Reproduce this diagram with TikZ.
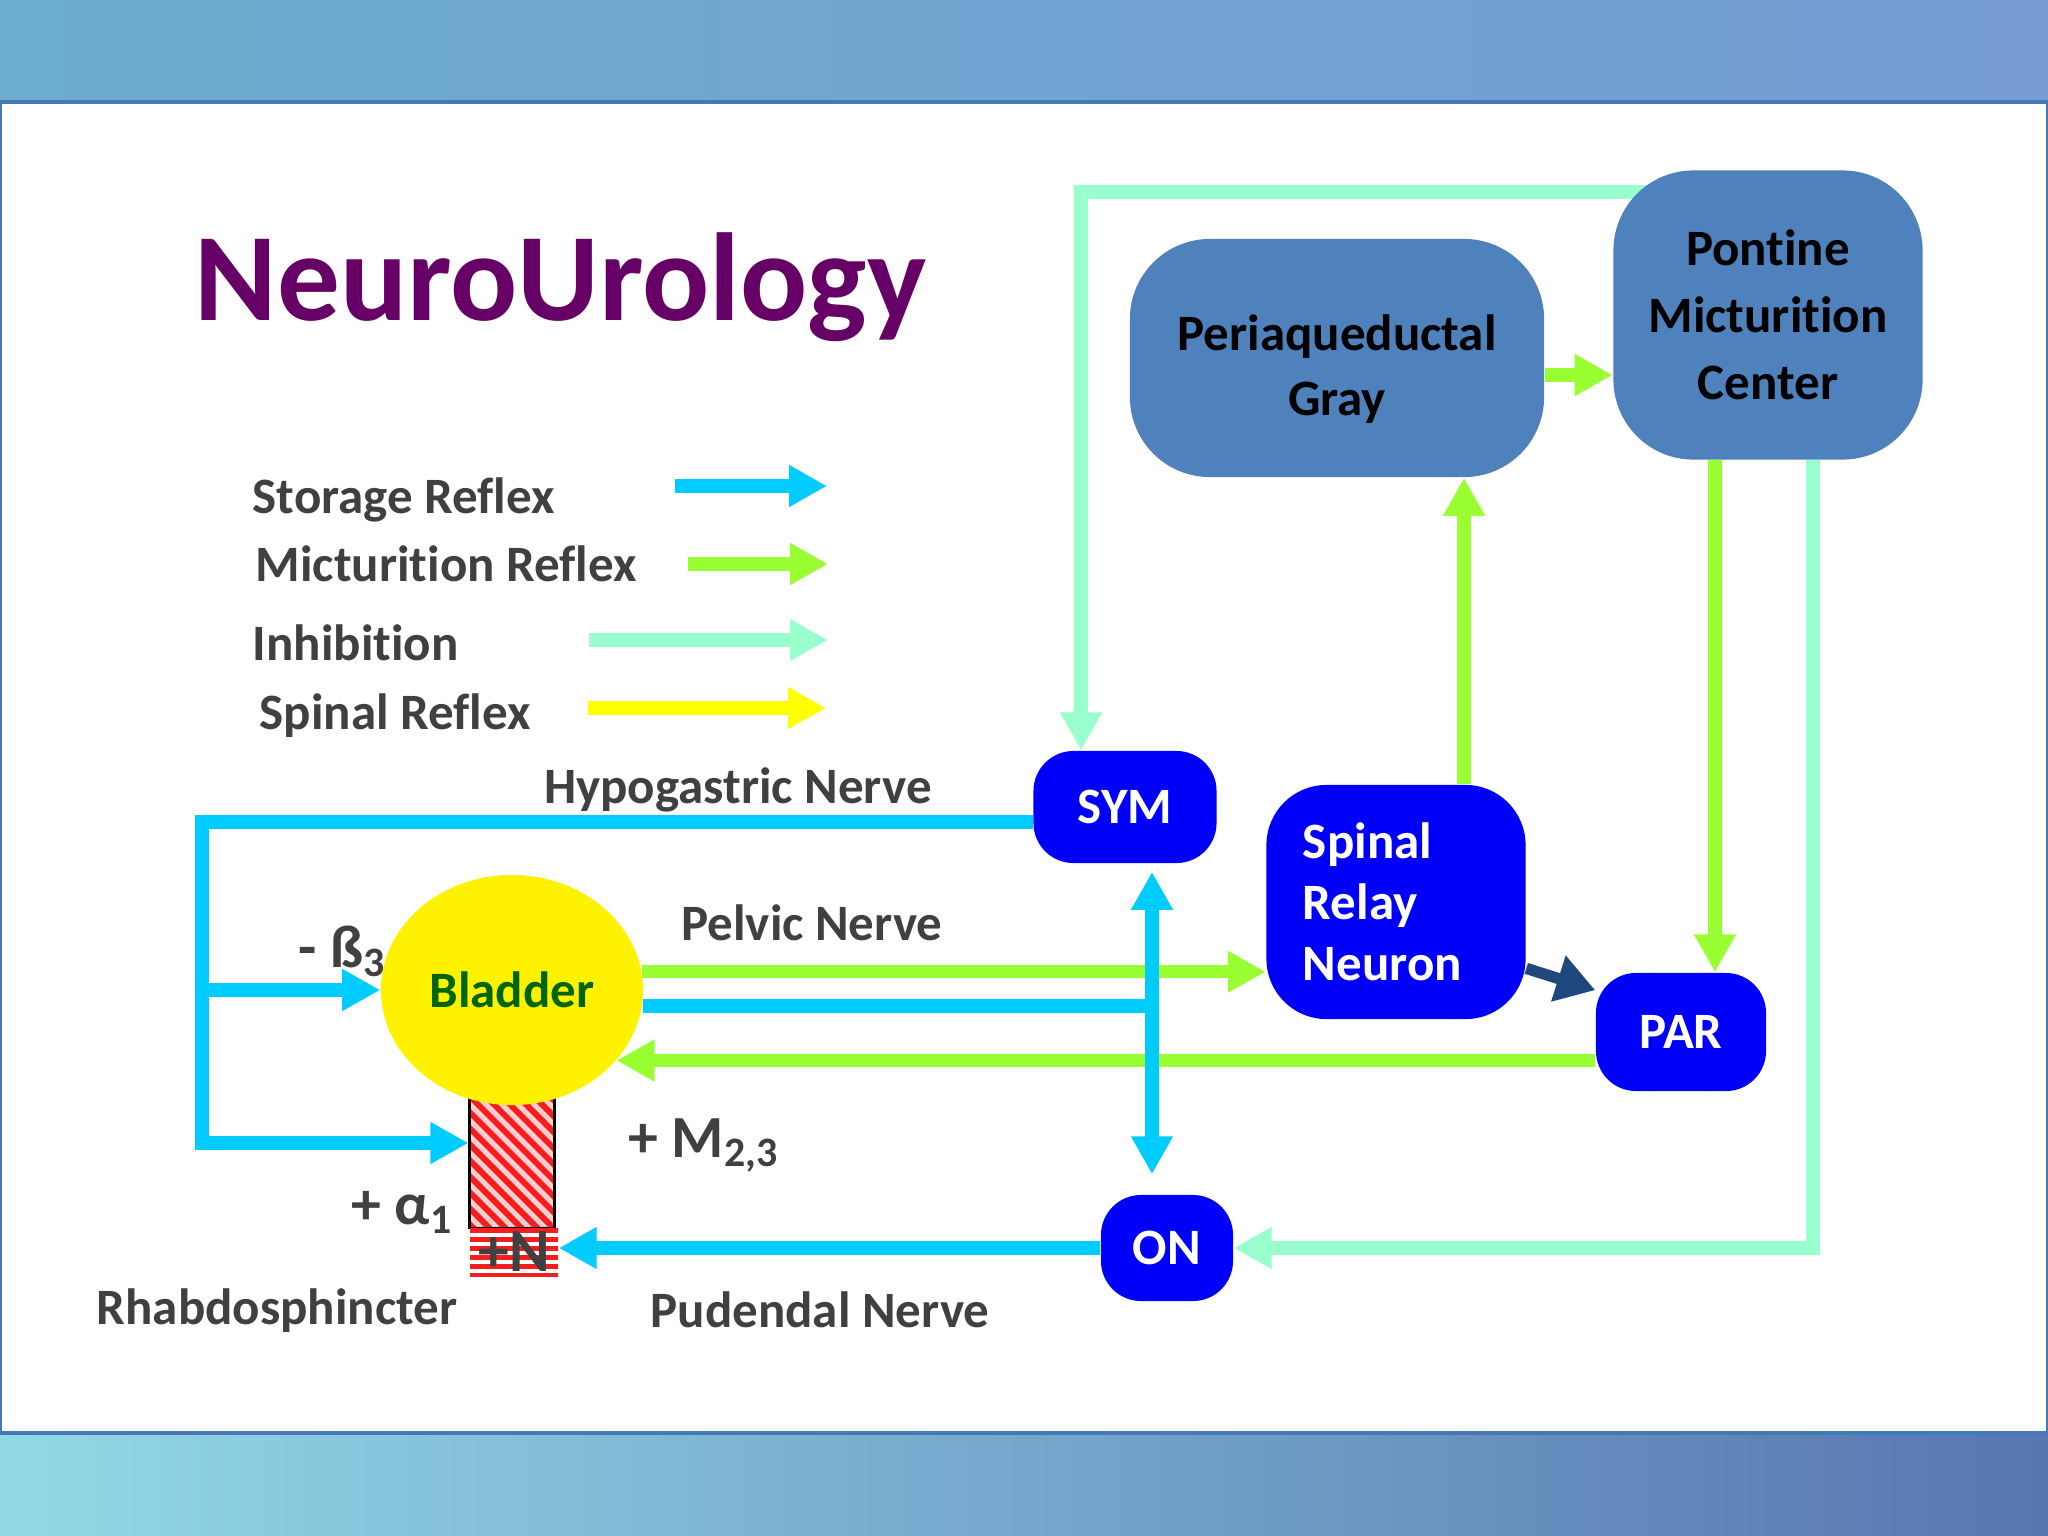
\documentclass[tikz,border=0pt]{standalone}
\usepackage{fontspec}
\setmainfont{Carlito}[Ligatures={NoCommon,NoContextual},Contextuals=NoAlternate]
\usepackage{tikz}
\usetikzlibrary{arrows.meta,positioning,shapes.geometric}
\pgfdeclarelayer{bg}
\pgfsetlayers{bg,main}

\definecolor{storagecol}{RGB}{0,204,255}
\definecolor{mictcol}{RGB}{153,255,51}
\definecolor{inhibcol}{RGB}{153,255,204}
\definecolor{spinalcol}{RGB}{255,255,0}
\definecolor{cnsblue}{RGB}{79,129,189}
\definecolor{gangblue}{RGB}{0,0,250}
\definecolor{titlepurple}{RGB}{102,0,102}
\definecolor{labelgray}{RGB}{64,64,64}
\definecolor{bladdergreen}{RGB}{0,102,0}
\definecolor{relaynavy}{RGB}{31,73,125}
\definecolor{hatchred}{RGB}{245,30,30}
\definecolor{hatchpink}{RGB}{255,205,205}
\definecolor{bandA}{RGB}{108,172,206}
\definecolor{bandB}{RGB}{146,212,230}
\definecolor{bandC}{RGB}{118,156,210}
\definecolor{bandD}{RGB}{146,216,230}
\definecolor{bandE}{RGB}{104,176,206}
\definecolor{bandF}{RGB}{88,118,176}
\definecolor{bandline}{RGB}{70,120,180}

\begin{document}
\begin{tikzpicture}[x=0.01cm,y=-0.01cm,>={Triangle[length=10.8pt,width=11.2pt]},
   font=\bfseries\fontsize{14.5}{19}\selectfont,
   storage/.style={draw=storagecol,line width=3.8pt},
   mict/.style={draw=mictcol,line width=3.8pt},
   inhib/.style={draw=inhibcol,line width=3.8pt},
   spinal/.style={draw=spinalcol,line width=3.8pt},
   cnsbox/.style={fill=cnsblue,rounded corners=0.8cm,inner sep=0pt,align=center,text=black},
   gangbox/.style={fill=gangblue,rounded corners=0.4cm,inner sep=0pt,align=center,text=white},
   lbl/.style={text=labelgray,inner sep=0pt},
   rlbl/.style={text=labelgray,inner sep=0pt,anchor=west,font=\bfseries\fontsize{17}{20}\selectfont}]
  \useasboundingbox (0,0) rectangle (2048,1536);

  % slide frame
  \begin{pgfonlayer}{bg}
    \fill[white] (0,0) rectangle (2048,1536);
    \shade[left color=bandA,middle color=bandB,right color=bandC] (0,0) rectangle (2048,102);
    \shade[left color=bandD,middle color=bandE,right color=bandF] (0,1433) rectangle (2048,1536);
    \draw[bandline,line width=1pt] (0,102) -- (2048,102);
    \draw[bandline,line width=1pt] (0,1433) -- (2048,1433);
    \draw[bandline,line width=0.5pt] (1,102) -- (1,1433) (2047,102) -- (2047,1433);
  \end{pgfonlayer}

  \node[anchor=base west,inner sep=0pt,text=titlepurple,font=\bfseries\fontsize{35.6}{40}\selectfont] (title) at (194,320) {NeuroUrology};

  % legend
  \node[lbl,anchor=base west] (kstore) at (252,513) {Storage Reflex};
  \node[lbl,anchor=base west] (kmict) at (255,581) {Micturition Reflex};
  \node[lbl,anchor=base west] (kinhib) at (252,660) {Inhibition};
  \node[lbl,anchor=base west] (kspin) at (259,729) {Spinal Reflex};
  \draw[storage,->] (675,486) -- (827,486);
  \draw[mict,->] (688,564) -- (828,564);
  \draw[inhib,->] (589,640) -- (828,640);
  \draw[spinal,->] (588,708) -- (826,708);

  % centres and ganglia
  \node[cnsbox,minimum width=4.14cm,minimum height=2.38cm,font=\bfseries\fontsize{14.5}{18.4}\selectfont] (pag) at (1337,358) {\rule{0pt}{16.5pt}Periaqueductal\\Gray};
  \node[cnsbox,minimum width=3.09cm,minimum height=2.89cm] (pmc) at (1768,315) {Pontine\\Micturition\\Center};
  \node[gangbox,minimum width=1.83cm,minimum height=1.12cm] (sym) at (1125,807) {SYM};
  \node[gangbox,minimum width=2.59cm,minimum height=2.34cm,rounded corners=0.6cm,
        text width=1.86cm,align=left,font=\bfseries\fontsize{14.5}{17.4}\selectfont] (srn) at (1396,902) {Spinal\\Relay\\Neuron};
  \node[gangbox,minimum width=1.70cm,minimum height=1.18cm] (par) at (1681,1032) {PAR};
  \node[gangbox,minimum width=1.32cm,minimum height=1.06cm] (on) at (1167,1248) {ON};

  % sphincter and bladder
  \node[draw=black,line width=0.6pt,fill=hatchpink,minimum width=0.85cm,minimum height=1.48cm,inner sep=0pt,
        path picture={\foreach \k in {-10,...,6}
          \draw[hatchred,line width=1.7pt] ([xshift=\k*0.16cm]path picture bounding box.north west) -- ++(200,200);}] (rhab) at (512,1154) {};
  \node[fill=white,minimum width=0.88cm,minimum height=0.49cm,inner sep=0pt,text=labelgray,
        font=\bfseries\fontsize{17.5}{20}\selectfont,
        path picture={\foreach \k in {0,...,5}
          \draw[hatchred,line width=1.3pt] ([yshift=-0.03cm-\k*0.09cm]path picture bounding box.north west) -- ++(100,0);}] (nico) at (514,1252) {+N};
  \node[ellipse,fill=yellow,minimum width=2.62cm,minimum height=2.30cm,inner sep=0pt,text=bladdergreen] (bladder) at (512,990) {Bladder};

  % connectors
  \begin{pgfonlayer}{bg}
    \draw[inhib,->] (pmc.center |- 0,192) -| (sym.north -| 1081,0);
    \draw[inhib,->] (pmc.south -| 1813,0) |- (on.east);
    \draw[mict,->] (pag.east |- 0,375) -- (pmc.west |- 0,375);
    \draw[mict,->] (srn.north -| 1464,0) -- (pag.south -| 1464,0);
    \draw[mict,->] (pmc.south -| 1715,0) -- (par.north -| 1715,0);
  \end{pgfonlayer}
  \draw[relaynavy,line width=3.2pt,-{Triangle[length=11pt,width=13pt]}] (srn.-27.6) -- (par.154);
  \draw[storage,->] (sym.west |- 0,822) -| (202,1143) -- (rhab.west |- 0,1143);
  \draw[storage,->] (202,990) -- (bladder.west);
  \draw[mict,->] (bladder.8) -- (srn.west |- bladder.8);
  \draw[storage] (bladder.353) -- (bladder.353 -| 1152,0);
  \draw[mict,->] (par.west |- bladder.326) -- (bladder.326);
  \draw[storage,<->,shorten <=2.3pt,shorten >=5.7pt] (sym.south -| 1152,0) -- (on.north -| 1152,0);
  \draw[storage,->] (on.west) -- (on.west -| nico.east);

  % nerve and receptor labels
  \node[lbl] (hypo) at (738,790) {Hypogastric Nerve};
  \node[lbl] (pelv) at (812,923) {Pelvic Nerve};
  \node[lbl] (pud) at (820,1310) {Pudendal Nerve};
  \node[lbl] (rhabl) at (277,1311) {Rhabdosphincter};
  \node[rlbl] (beta) at (298,951) {- ß\textsubscript{3}};
  \node[rlbl] (musc) at (628,1145) {+ M\textsubscript{2,3}};
  \node[rlbl] (alpha) at (351,1212) {+ α\textsubscript{1}};
\end{tikzpicture}
\end{document}
